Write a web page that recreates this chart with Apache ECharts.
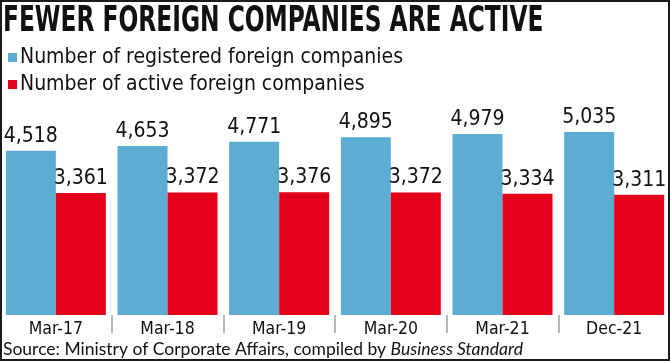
<!DOCTYPE html>
<html>
<head>
<meta charset="utf-8">
<script src="https://cdn.jsdelivr.net/npm/echarts@6/dist/echarts.min.js"></script>
<style>
html,body{margin:0;padding:0;background:#fff;}
#chart{width:670px;height:361px;}
</style>
</head>
<body>
<div id="chart"></div>
<script>
var categories = ['Mar-17', 'Mar-18', 'Mar-19', 'Mar-20', 'Mar-21', 'Dec-21'];
var registered = [4518, 4653, 4771, 4895, 4979, 5035];
var active = [3361, 3372, 3376, 3372, 3334, 3311];
var seriesNames = ['Number of registered foreign companies', 'Number of active foreign companies'];
var titleText = 'FEWER FOREIGN COMPANIES ARE ACTIVE';
var sourceText = 'Source: Ministry of Corporate Affairs, compiled by ';
var sourceItalic = 'Business Standard';

var NARROW = '"DejaVu Sans Condensed", "Liberation Sans Narrow", sans-serif';
var BLUE = '#5DADD3', RED = '#E5001A';

var chart = echarts.init(document.getElementById('chart'));
function fmt(p){ return p.value.toLocaleString('en-US'); }
chart.setOption({
  animation: false,
  backgroundColor: '#fff',
  grid: { left: -2, right: 0, top: 97, bottom: 46, containLabel: false },
  legend: {
    orient: 'vertical', left: 3, top: 42, itemGap: 6,
    itemWidth: 9, itemHeight: 9, icon: 'rect',
    textStyle: { fontFamily: NARROW, fontSize: 21, color: '#111', padding: [0,0,0,-2] },
    data: seriesNames
  },
  xAxis: {
    type: 'category', data: categories,
    axisLine: { show: false },
    axisTick: { show: true, length: 18, lineStyle: { color: '#a0a0a0', width: 1.5 } },
    axisLabel: { fontFamily: NARROW, fontSize: 17.5, color: '#111', margin: 5 }
  },
  yAxis: { type: 'value', min: 0, max: 6000, show: false, splitLine: { show: false } },
  series: [
    { name: seriesNames[0], type: 'bar', data: registered, barWidth: 50, barGap: '0%',
      itemStyle: { color: BLUE },
      label: { show: true, position: 'top', distance: 4, formatter: fmt,
        fontFamily: NARROW, fontSize: 21, color: '#111' } },
    { name: seriesNames[1], type: 'bar', data: active, barWidth: 50,
      itemStyle: { color: RED },
      label: { show: true, position: 'top', distance: 4, formatter: fmt,
        fontFamily: NARROW, fontSize: 21, color: '#111' } }
  ],
  graphic: [
    { type: 'text', left: 3, top: 4, scaleX: 0.72,
      style: { text: titleText, font: 'bold 36px ' + NARROW, fill: '#111' } },
    { type: 'text', left: 3, top: 340,
      style: { text: '{a|' + sourceText + '}{b|' + sourceItalic + '}',
        rich: {
          a: { fontFamily: 'Lato', fontSize: 17.5, fill: '#111' },
          b: { fontFamily: 'Lato', fontSize: 17.5, fontStyle: 'italic', fill: '#111' }
        } } },
    { type: 'rect', shape: { x: 1, y: 1, width: 668, height: 359 },
      style: { fill: 'none', stroke: '#1a1a1a', lineWidth: 2 }, z: 100 }
  ]
});
</script>
</body>
</html>
